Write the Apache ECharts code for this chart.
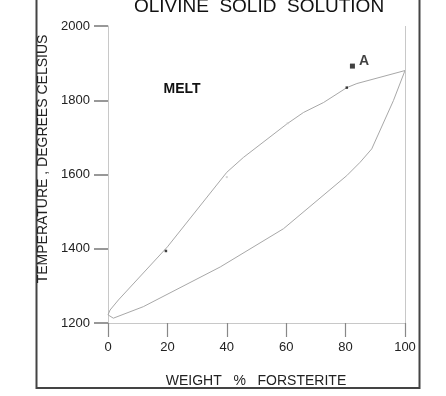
<!DOCTYPE html>
<html>
<head>
<meta charset="utf-8">
<script src="https://cdn.jsdelivr.net/npm/echarts@6/dist/echarts.min.js"></script>
<style>
html,body{margin:0;padding:0;background:#fff;}
#chart{width:446px;height:396px;}
</style>
</head>
<body>
<div id="chart"></div>
<script>
// Liquidus (upper curve): weight % forsterite vs temperature (°C)
const liquidusX = [0, 0.7, 3.5, 20, 40, 45.6, 60.2, 65.8, 72.6, 80.4, 83.8, 100];
const liquidusT = [1222, 1235, 1262, 1405, 1606, 1646, 1736, 1767, 1794, 1834, 1845, 1880];
// Solidus (lower curve)
const solidusX = [0, 1.8, 11.9, 37.8, 59.1, 80.4, 84.9, 88.8, 96.1, 100];
const solidusT = [1222, 1213, 1244, 1351, 1454, 1597, 1633, 1669, 1799, 1880];
// Small dots
const dotsX = [19.5, 80.4];
const dotsT = [1394, 1834];
const faintX = [40, 60.5];
const faintT = [1593, 1738];
// Point A
const pointA = [82.3, 1892];
const xTicks = [0, 20, 40, 60, 80, 100];
const yTicks = [1200, 1400, 1600, 1800, 2000];

const zip = (a, b) => a.map((v, i) => [v, b[i]]);

const chart = echarts.init(document.getElementById('chart'), null, {renderer: 'canvas'});
const FONT = 'Liberation Sans, Arial, sans-serif';
chart.setOption({
  animation: false,
  backgroundColor: '#fff',
  grid: {left: 108, right: 41, top: 26, bottom: 73},
  xAxis: {
    type: 'value', min: xTicks[0], max: xTicks[xTicks.length - 1], interval: 20,
    axisLine: {show: true, lineStyle: {color: '#c8c8c8', width: 1}},
    axisTick: {show: true, length: 14, lineStyle: {color: '#888', width: 1.2}},
    axisLabel: {margin: 18, fontSize: 13, color: '#222', fontFamily: FONT,
      formatter: v => String(v)},
    splitLine: {show: false}
  },
  yAxis: {
    type: 'value', min: yTicks[0], max: yTicks[yTicks.length - 1], interval: 200,
    axisLine: {show: true, lineStyle: {color: '#c8c8c8', width: 1}},
    axisTick: {show: true, length: 14, lineStyle: {color: '#777', width: 1.5}},
    axisLabel: {margin: 18, fontSize: 13, color: '#222', fontFamily: FONT,
      formatter: v => String(v)},
    splitLine: {show: false}
  },
  series: [
    {
      type: 'line', data: zip(liquidusX, liquidusT), showSymbol: false, symbol: 'none',
      lineStyle: {color: '#a8a8a8', width: 1}, z: 3,
      markLine: {
        silent: true, symbol: 'none', label: {show: false},
        lineStyle: {color: '#c8c8c8', type: 'solid', width: 1},
        data: [{xAxis: 100}]
      }
    },
    {
      type: 'line', data: zip(solidusX, solidusT), showSymbol: false, symbol: 'none',
      lineStyle: {color: '#a8a8a8', width: 1}, z: 3
    },
    {
      type: 'scatter', data: zip(dotsX, dotsT), symbol: 'rect', symbolSize: 2.5,
      itemStyle: {color: '#111'}, z: 5
    },
    {
      type: 'scatter', data: zip(faintX, faintT), symbol: 'rect', symbolSize: 2,
      itemStyle: {color: '#ccc'}, z: 4
    },
    {
      type: 'scatter', data: [pointA], symbol: 'rect', symbolSize: 5,
      itemStyle: {color: '#111'}, z: 5,
      label: {show: true, formatter: 'A', position: 'right', distance: 4, offset: [0, -5],
        fontSize: 14, fontWeight: 'bold', color: '#111', fontFamily: FONT}
    }
  ],
  graphic: [
    {type: 'rect', shape: {x: 36.5, y: -10, width: 383, height: 398},
      style: {fill: 'none', stroke: '#444', lineWidth: 2}, silent: true},
    {type: 'text', x: 259, y: -3,
      style: {text: 'OLIVINE  SOLID  SOLUTION', font: '19px ' + FONT, fill: '#111',
        textAlign: 'center', textVerticalAlign: 'top'}},
    {type: 'text', x: 182, y: 89,
      style: {text: 'MELT', font: 'bold 14px ' + FONT, fill: '#111',
        textAlign: 'center', textVerticalAlign: 'middle'}},
    {type: 'text', x: 43.5, y: 159, rotation: Math.PI / 2,
      style: {text: 'TEMPERATURE , DEGREES CELSIUS', font: '14px ' + FONT, fill: '#222',
        textAlign: 'center', textVerticalAlign: 'middle'}},
    {type: 'text', x: 256, y: 381,
      style: {text: 'WEIGHT   %   FORSTERITE', font: '14px ' + FONT, fill: '#222',
        textAlign: 'center', textVerticalAlign: 'middle'}}
  ]
});
</script>
</body>
</html>
